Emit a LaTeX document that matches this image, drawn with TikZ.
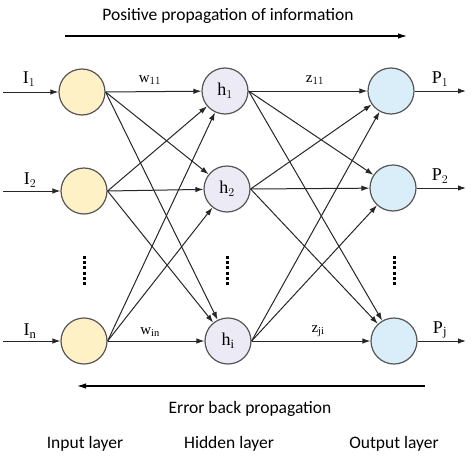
\documentclass[tikz,border=0pt]{standalone}
\usepackage{fontspec}
\setmainfont{Liberation Serif}
\newfontfamily\labfont{Carlito}
\usetikzlibrary{arrows.meta}
\definecolor{inc}{HTML}{FFF1C6}
\definecolor{hidc}{HTML}{ECEAF4}
\definecolor{outc}{HTML}{D9EEF8}
\definecolor{bordc}{HTML}{555555}
\tikzset{
  neuron/.style={circle,draw=bordc,line width=1.2pt,minimum size=46pt,inner sep=0pt,font=\fontsize{18}{18}\selectfont},
  inneuron/.style={neuron,fill=inc},
  hidneuron/.style={neuron,fill=hidc},
  outneuron/.style={neuron,fill=outc},
  conn/.style={line width=1pt,draw=black!85,-{Latex[length=8pt,width=5.5pt]}},
  bigarrow/.style={line width=1.1pt,-{Latex[length=9pt,width=5.5pt]}},
  lbl/.style={font=\fontsize{18}{18}\selectfont},
  wlbl/.style={font=\fontsize{15}{15}\selectfont},
  txt/.style={font=\labfont\fontsize{17.5}{18}\selectfont},
  dotcol/.style={line width=3pt,dash pattern=on 3pt off 2.2pt}
}
\begin{document}
\begin{tikzpicture}[x=1pt,y=-1pt]
\useasboundingbox (0,0) rectangle (474,458);
% nodes
\node[inneuron] (in1) at (82,92) {};
\node[inneuron] (in2) at (84,191) {};
\node[inneuron] (inn) at (84,341) {};
\node[hidneuron] (h1) at (225,91) {h$_1$};
\node[hidneuron] (h2) at (227,189) {h$_2$};
\node[hidneuron] (hi) at (228,341) {h$_\mathrm{i}$};
\node[outneuron] (o1) at (391,91) {};
\node[outneuron] (o2) at (393,188) {};
\node[outneuron] (oj) at (394,341) {};
% free ends
\coordinate (s1) at (3,92);
\coordinate (s2) at (3,191);
\coordinate (sn) at (3,341);
\coordinate (e1) at (466,91);
\coordinate (e2) at (466,188);
\coordinate (ej) at (466,341);
\coordinate (ta) at (65,36);
\coordinate (tb) at (407,36);
\coordinate (ba) at (425,386);
\coordinate (bb) at (77,386);
% input arrows
\draw[conn] (s1) -- (in1);
\draw[conn] (s2) -- (in2);
\draw[conn] (sn) -- (inn);
% output arrows
\draw[conn] (o1) -- (e1);
\draw[conn] (o2) -- (e2);
\draw[conn] (oj) -- (ej);
% input -> hidden
\foreach \a in {in1,in2,inn}{
  \foreach \b in {h1,h2,hi}{
    \draw[conn] (\a.east) -- (\b);
  }
}
% hidden -> output
\foreach \a in {h1,h2,hi}{
  \foreach \b in {o1,o2,oj}{
    \draw[conn] (\a.east) -- (\b);
  }
}
% labels
\node[lbl] (li1) at (29,79) {I$_1$};
\node[lbl] (li2) at (30,180) {I$_2$};
\node[lbl] (lin) at (30,331) {I$_\mathrm{n}$};
\node[lbl] (lp1) at (440,79) {P$_1$};
\node[lbl] (lp2) at (440,176) {P$_2$};
\node[lbl] (lpj) at (440,330) {P$_\mathrm{j}$};
\node[wlbl] (w11) at (150,80) {w$_{11}$};
\node[wlbl] (win) at (150,332) {w$_\mathrm{in}$};
\node[wlbl] (z11) at (315,80) {z$_{11}$};
\node[wlbl] (zji) at (318,331) {z$_\mathrm{ji}$};
% dots
\draw[dotcol] (84,256) -- (84,285);
\draw[dotcol] (227,256) -- (227,285);
\draw[dotcol] (394,256) -- (394,285);
% propagation arrows and texts
\node[txt] (tpos) at (228,16) {Positive propagation of information};
\draw[bigarrow] (ta) -- (tb);
\draw[bigarrow] (ba) -- (bb);
\node[txt] (terr) at (250,409) {Error back propagation};
\node[txt] (tin) at (85,444) {Input layer};
\node[txt] (thid) at (229,444) {Hidden layer};
\node[txt] (tout) at (394,444) {Output layer};
\end{tikzpicture}
\end{document}
